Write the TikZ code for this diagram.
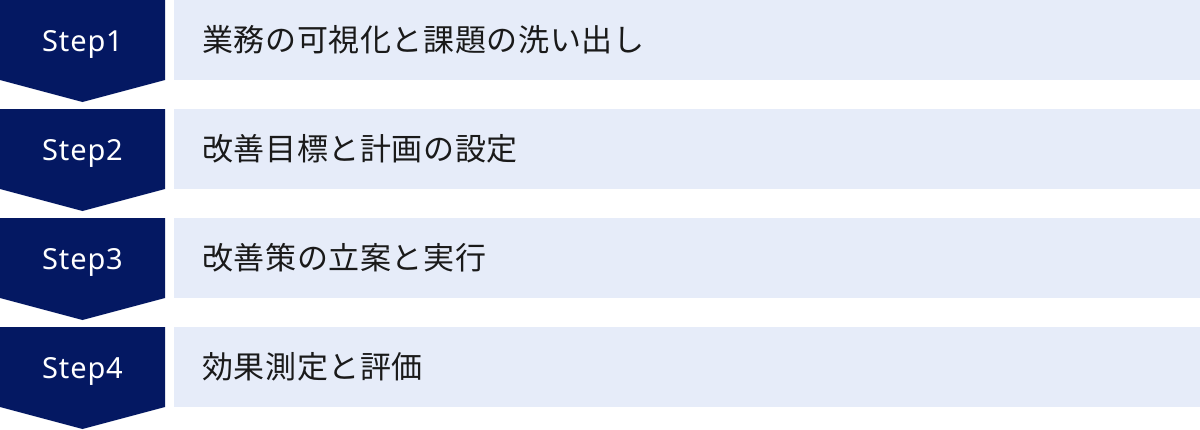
\documentclass[tikz,border=0pt]{standalone}
\usepackage{fontspec}
\setmainfont{Noto Sans CJK JP}
\newfontfamily\stepfont[LetterSpace=3]{Noto Sans}
\usetikzlibrary{positioning}

\definecolor{stepnavy}{HTML}{041862}
\definecolor{taskblue}{HTML}{E6ECF9}
\definecolor{tasktext}{HTML}{1A1A1A}

\tikzset{
	steplabel/.style={text=white, anchor=base, inner sep=0pt, font=\stepfont\fontsize{29}{36}\selectfont},
	taskbox/.style={fill=taskblue, anchor=west, minimum height=80pt, minimum width=1026pt, inner sep=0pt},
	tasklabel/.style={text=tasktext, anchor=base west, inner sep=0pt,
		font=\addfontfeatures{LetterSpace=2}\fontsize{31}{36}\selectfont}
}

\begin{document}
\begin{tikzpicture}[x=1pt, y=-1pt]
			\useasboundingbox (0,0) rectangle (1200,429);
			% step 1
			\fill [stepnavy] (0,0) -- (165,0) -- (165,80) -- (82.5,102) -- (0,80) -- cycle;
			\node [steplabel] (step1) at (82.5,51) {Step1};
			\node [taskbox] (task1) at (174,40) {};
			\node [tasklabel] (label1) at ([xshift=28pt, yshift=-11pt]task1.west) {業務の可視化と課題の洗い出し};
			% step 2
			\fill [stepnavy] (0,109) -- (165,109) -- (165,189) -- (82.5,211) -- (0,189) -- cycle;
			\node [steplabel] (step2) at (82.5,160) {Step2};
			\node [taskbox] (task2) at (174,149) {};
			\node [tasklabel] (label2) at ([xshift=28pt, yshift=-11pt]task2.west) {改善目標と計画の設定};
			% step 3
			\fill [stepnavy] (0,218) -- (165,218) -- (165,298) -- (82.5,320) -- (0,298) -- cycle;
			\node [steplabel] (step3) at (82.5,269) {Step3};
			\node [taskbox] (task3) at (174,258) {};
			\node [tasklabel] (label3) at ([xshift=28pt, yshift=-11pt]task3.west) {改善策の立案と実行};
			% step 4
			\fill [stepnavy] (0,327) -- (165,327) -- (165,407) -- (82.5,429) -- (0,407) -- cycle;
			\node [steplabel] (step4) at (82.5,378) {Step4};
			\node [taskbox] (task4) at (174,367) {};
			\node [tasklabel] (label4) at ([xshift=28pt, yshift=-11pt]task4.west) {効果測定と評価};
	\end{tikzpicture}
\end{document}
